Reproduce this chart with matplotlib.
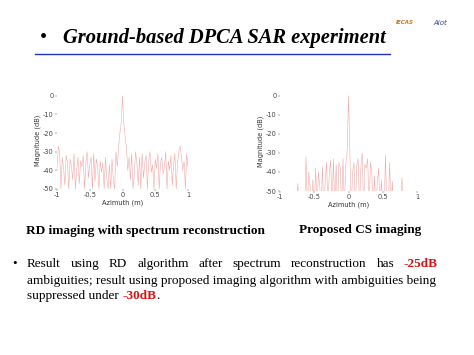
import numpy as np
import matplotlib.pyplot as plt

plt.rcParams['axes.unicode_minus'] = False

# azimuth grid (m) and magnitudes (dB)
azimuth = np.linspace(-1, 1, 101)
rd_mag = [-40, -27, -30, -50, -33, -38, -48, -32, -36, -50,
          -34, -38, -45, -31, -50, -40, -33, -47, -35, -38,
          -32, -50, -36, -30, -44, -37, -33, -50, -31, -46,
          -34, -38, -50, -35, -41, -36, -50, -33, -44, -50,
          -37, -50, -34, -45, -50, -30, -38, -28, -20, -15,
          0, -15, -22, -28, -40, -33, -45, -31, -50, -42,
          -30, -36, -48, -33, -50, -31, -44, -36, -32, -50,
          -35, -30, -41, -37, -50, -34, -39, -31, -50, -36,
          -33, -42, -38, -30, -50, -35, -40, -32, -48, -37,
          -31, -50, -36, -30, -27, -33, -40, -35, -50, -31, -38]
cs_mag = [-60, -60, -60, -60, -60, -60, -60, -60, -60, -60,
          -60, -60, -60, -46, -60, -60, -60, -60, -60, -32,
          -60, -40, -48, -60, -44, -60, -38, -60, -40, -47,
          -60, -37, -60, -45, -35, -60, -40, -34, -60, -33,
          -60, -36, -60, -35, -38, -60, -33, -60, -36, -30,
          0, -30, -60, -40, -35, -60, -37, -33, -60, -38,
          -30, -60, -36, -38, -33, -60, -35, -40, -60, -42,
          -60, -46, -38, -60, -44, -60, -60, -31, -60, -60,
          -35, -60, -45, -60, -60, -60, -60, -60, -60, -43,
          -60, -60, -60, -60, -60, -60, -60, -60, -60, -60, -60]
xticks = [-1, -0.5, 0, 0.5, 1]
yticks = [0, -10, -20, -30, -40, -50]

fig = plt.figure(figsize=(4.74, 3.55), dpi=100)
serif = 'Liberation Serif'
W, H = 474, 355

def px(x, y):
    return x / W, 1 - y / H

fig.text(*px(40, 38), '\u2022', fontsize=14.8, family=serif, va='center')
fig.text(*px(63, 38), 'Ground-based DPCA SAR experiment', fontsize=14.8,
         family=serif, weight='bold', style='italic', va='center')
fig.add_artist(plt.Line2D([35 / W, 390 / W], [1 - 54 / H, 1 - 54 / H],
                          color='#2233bb', lw=1.0))
fig.text(*px(405, 23), 'IECAS', fontsize=4, color='#cc7722', weight='bold',
         style='italic', va='center', ha='center')
fig.text(*px(440, 23), 'Aiot', fontsize=5, color='#334499', style='italic',
         va='center', ha='center')

def panel(left, right, top, bottom, mag):
    ax = fig.add_axes([left / W, 1 - bottom / H, (right - left) / W, (bottom - top) / H])
    ax.plot(azimuth, mag, color='#f29a9a', lw=0.4, alpha=0.85)
    ax.set_xlim(-1, 1)
    ax.set_ylim(-50, 2)
    ax.set_xticks(xticks)
    ax.set_xticklabels(['-1', '-0.5', '0', '0.5', '1'])
    ax.set_yticks(yticks)
    ax.tick_params(labelsize=4.8, length=1.5, width=0.3, pad=1, colors='#444444')
    for s in ax.spines.values():
        s.set_visible(False)
    ax.set_xlabel('Azimuth (m)', fontsize=4.8, labelpad=1, color='#333333')
    ax.set_ylabel('Magnitude (dB)', fontsize=4.8, labelpad=1, color='#333333')
    return ax

panel(57, 188, 92, 189, rd_mag)
panel(280, 417, 92, 191, cs_mag)

fig.text(*px(145, 231), 'RD imaging with spectrum reconstruction', fontsize=9.5,
         family=serif, weight='bold', ha='center', va='center')
fig.text(*px(360, 230), 'Proposed CS imaging', fontsize=9.5,
         family=serif, weight='bold', ha='center', va='center')

fs = 9.5
fig.text(*px(12, 264), '\u2022', fontsize=fs, family=serif, va='center')

# first line is justified between x=27 and x=438
words = ['Result', 'using', 'RD', 'algorithm', 'after', 'spectrum',
         'reconstruction', 'has', '-25dB']
fig.canvas.draw()
r = fig.canvas.get_renderer()
arts = []
for w in words:
    red = w == '-25dB'
    t = fig.text(0, 1 - 264 / H, w, fontsize=fs, family=serif, va='center',
                 weight='bold' if red else 'normal',
                 color='#dd1111' if red else 'black')
    arts.append(t)
widths = [t.get_window_extent(r).width for t in arts]
gap = (438 - 27 - sum(widths)) / (len(words) - 1)
x = 27
for t, wd in zip(arts, widths):
    t.set_x(x / W)
    x += wd + gap

fig.text(*px(27, 281), 'ambiguities; result using proposed imaging algorithm with ambiguities being',
         fontsize=fs, family=serif, va='center')
t3 = fig.text(*px(27, 296), 'suppressed under ', fontsize=fs, family=serif, va='center')
x3 = 27 + t3.get_window_extent(r).width
t4 = fig.text(*px(x3, 296), '-30dB', fontsize=fs, family=serif, weight='bold',
              color='#dd1111', va='center')
x4 = x3 + t4.get_window_extent(r).width
fig.text(*px(x4, 296), '.', fontsize=fs, family=serif, va='center')

fig.savefig('out.png', dpi=100)
